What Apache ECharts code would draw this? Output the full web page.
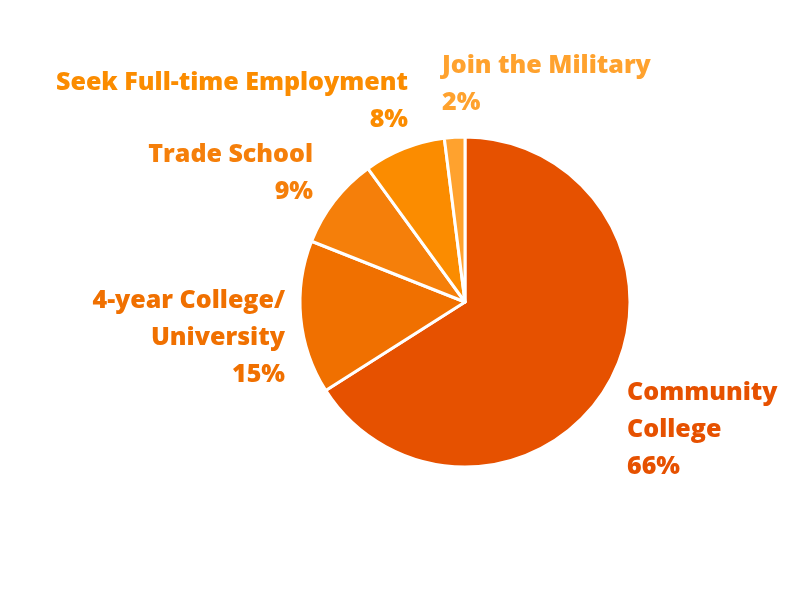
<!DOCTYPE html>
<html>
<head>
<meta charset="utf-8">
<script src="https://cdn.jsdelivr.net/npm/echarts@6/dist/echarts.min.js"></script>
<style>html,body{margin:0;background:#fff}#c{width:800px;height:600px}</style>
</head>
<body>
<div id="c"></div>
<script>
const categories = ['Community\nCollege', '4-year College/\nUniversity', 'Trade School', 'Seek Full-time Employment', 'Join the Military'];
const values = [66, 15, 9, 8, 2];
const colors = ['#e65100', '#f07000', '#f57f0a', '#fb8c00', '#ffa22e'];

// label anchors: [x, y, align]
const labelSpots = [
    [627, 430, 'left'],
    [285, 338, 'right'],
    [313, 173, 'right'],
    [408, 101, 'right'],
    [442, 84, 'left']
];

const chart = echarts.init(document.getElementById('c'));
chart.setOption({
    series: [{
        type: 'pie',
        center: [465, 302],
        radius: [0, 165],
        startAngle: 90,
        itemStyle: { borderColor: '#fff', borderWidth: 3 },
        label: {
            show: true,
            formatter: '{b}\n{d}%',
            fontFamily: 'Open Sans',
            fontWeight: 800,
            fontSize: 25,
            lineHeight: 37,
            overflow: 'none',
            width: 500
        },
        labelLine: { show: false },
        labelLayout: (p) => {
            const s = labelSpots[p.dataIndex];
            return { x: s[0], y: s[1], align: s[2], verticalAlign: 'middle' };
        },
        emphasis: { disabled: true },
        data: categories.map((name, i) => ({
            name,
            value: values[i],
            itemStyle: { color: colors[i] },
            label: { color: colors[i], align: labelSpots[i][2] }
        }))
    }]
});
</script>
</body>
</html>
